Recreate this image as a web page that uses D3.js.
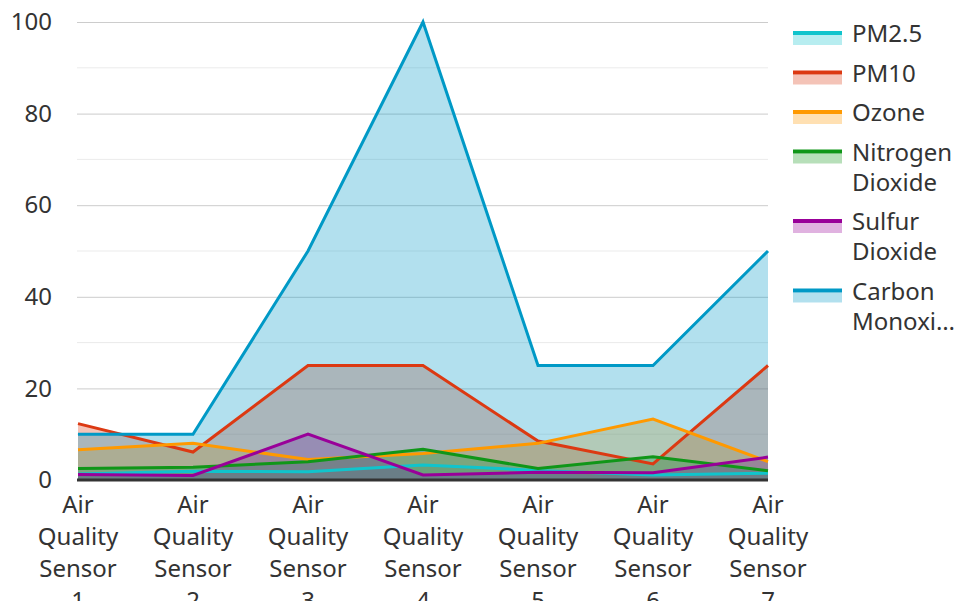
<!DOCTYPE html>
<html>
<head>
<meta charset="utf-8">
<script src="https://cdn.jsdelivr.net/npm/d3@7"></script>
<style>
  body { margin: 0; background: #fff; }
  text { font-family: 'Noto Sans', 'Open Sans', sans-serif; fill: #333; }
</style>
</head>
<body>
<div id="chart"></div>
<script>
const sensors = [
  'Air Quality Sensor 1',
  'Air Quality Sensor 2',
  'Air Quality Sensor 3',
  'Air Quality Sensor 4',
  'Air Quality Sensor 5',
  'Air Quality Sensor 6',
  'Air Quality Sensor 7'
]

const pm25 = [1.3, 1.9, 1.8, 3.3, 2.1, 1.1, 1.5]
const pm10 = [12.3, 6.1, 25, 25, 8.5, 3.5, 25]
const ozone = [6.6, 8, 4.5, 5.8, 8, 13.3, 4]
const nitrogenDioxide = [2.5, 2.8, 4, 6.7, 2.5, 5.1, 2]
const sulfurDioxide = [1.2, 1, 10, 1.1, 1.7, 1.6, 5]
const carbonMonoxide = [10, 10, 50, 100, 25, 25, 50]

const seriesNames = ['PM2.5', 'PM10', 'Ozone', 'Nitrogen Dioxide', 'Sulfur Dioxide', 'Carbon Monoxide']
const legendLabels = [['PM2.5'], ['PM10'], ['Ozone'], ['Nitrogen', 'Dioxide'], ['Sulfur', 'Dioxide'], ['Carbon', 'Monoxi…']]
const colors = ['#10c4cc', '#dc3912', '#ff9900', '#109618', '#990099', '#0099c6']

const yTicks = [0, 20, 40, 60, 80, 100]
const yMinorTicks = [10, 30, 50, 70, 90]

const series = [pm25, pm10, ozone, nitrogenDioxide, sulfurDioxide, carbonMonoxide].map((values, i) => {
  return { name: seriesNames[i], values: values, color: colors[i], label: legendLabels[i] }
})

const width = 958
const height = 601
const plot = { left: 77, right: 768, top: 22, bottom: 480 }

const svg = d3
  .select('#chart')
  .append('svg')
  .attr('width', width)
  .attr('height', height)

const xPositionScale = d3
  .scalePoint()
  .domain(sensors)
  .range([plot.left + 1, plot.right])

const yPositionScale = d3
  .scaleLinear()
  .domain([0, 100])
  .range([plot.bottom, plot.top])

// gridlines
svg
  .append('g')
  .selectAll('line')
  .data(yMinorTicks)
  .enter()
  .append('line')
  .attr('x1', plot.left)
  .attr('x2', plot.right)
  .attr('y1', d => yPositionScale(d))
  .attr('y2', d => yPositionScale(d))
  .attr('stroke', '#ebebeb')
  .attr('stroke-width', 1)

const yAxis = d3
  .axisLeft(yPositionScale)
  .tickValues(yTicks)
  .tickSize(-(plot.right - plot.left))
  .tickPadding(25)

svg
  .append('g')
  .attr('class', 'y-axis')
  .attr('transform', 'translate(' + plot.left + ',0)')
  .call(yAxis)
  .call(g => g.select('.domain').remove())
  .call(g => g.selectAll('.tick line').attr('stroke', '#cccccc').attr('stroke-width', 1))
  .call(g => g.selectAll('.tick text')
    .attr('font-size', 24)
    .attr('fill', '#444')
    .style('font-family', "'Noto Sans', 'Open Sans', sans-serif"))

const area = d3
  .area()
  .x((d, i) => xPositionScale(sensors[i]))
  .y0(yPositionScale(0))
  .y1(d => yPositionScale(d))

const line = d3
  .line()
  .x((d, i) => xPositionScale(sensors[i]))
  .y(d => yPositionScale(d))

svg
  .append('g')
  .selectAll('path')
  .data(series)
  .enter()
  .append('path')
  .attr('d', d => area(d.values))
  .attr('fill', d => d.color)
  .attr('fill-opacity', 0.3)

svg
  .append('g')
  .selectAll('path')
  .data(series)
  .enter()
  .append('path')
  .attr('d', d => line(d.values))
  .attr('fill', 'none')
  .attr('stroke', d => d.color)
  .attr('stroke-width', 3)
  .attr('stroke-linejoin', 'miter')

// baseline
svg
  .append('line')
  .attr('x1', plot.left)
  .attr('x2', plot.right)
  .attr('y1', yPositionScale(0))
  .attr('y2', yPositionScale(0))
  .attr('stroke', '#333')
  .attr('stroke-width', 3)

// x labels, wrapped on spaces
const xLabels = svg
  .append('g')
  .selectAll('text')
  .data(sensors)
  .enter()
  .append('text')
  .attr('x', d => xPositionScale(d))
  .attr('y', 513)
  .attr('text-anchor', 'middle')
  .attr('font-size', 24)

xLabels
  .selectAll('tspan')
  .data(d => d.split(' '))
  .enter()
  .append('tspan')
  .attr('x', function() { return d3.select(this.parentNode).attr('x') })
  .attr('dy', (d, i) => i === 0 ? 0 : 32)
  .text(d => d)

// legend
let legendY = 42
const legend = svg.append('g')

series.forEach(s => {
  const item = legend.append('g').attr('transform', 'translate(0,' + legendY + ')')

  item
    .append('rect')
    .attr('x', 793)
    .attr('y', -7)
    .attr('width', 49)
    .attr('height', 10)
    .attr('fill', s.color)
    .attr('fill-opacity', 0.3)

  item
    .append('rect')
    .attr('x', 793)
    .attr('y', -11)
    .attr('width', 49)
    .attr('height', 4)
    .attr('fill', s.color)

  item
    .append('text')
    .attr('x', 852)
    .attr('y', 0)
    .attr('font-size', 24)
    .selectAll('tspan')
    .data(s.label)
    .enter()
    .append('tspan')
    .attr('x', 852)
    .attr('dy', (d, i) => i === 0 ? 0 : 30)
    .text(d => d)

  legendY += 39.5 + (s.label.length - 1) * 30
})
</script>
</body>
</html>
